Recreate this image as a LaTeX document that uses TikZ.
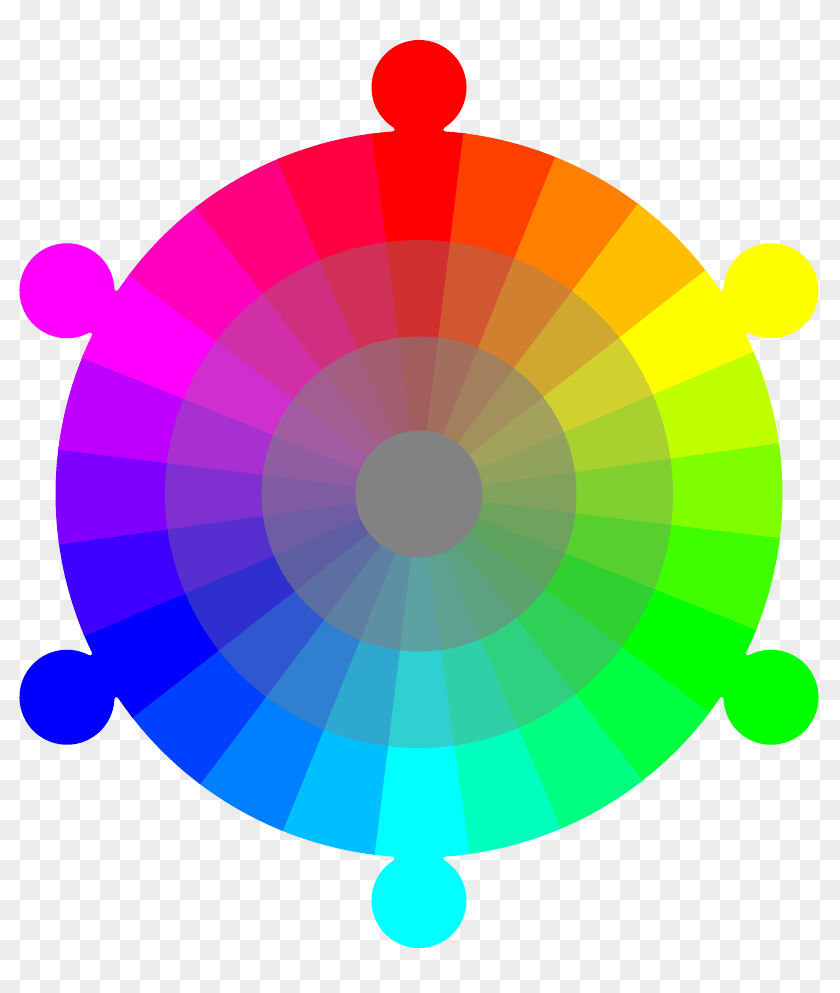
\documentclass[tikz,border=0pt]{standalone}
\definecolor{checkgray}{RGB}{236,236,236}
\definecolor{midgray}{RGB}{130,130,130}
\definecolor{basegray}{rgb}{0.5,0.5,0.5}
\begin{document}
\begin{tikzpicture}[x=1pt,y=1pt]
\useasboundingbox (0,0) rectangle (840,993);
\fill[white] (0,0) rectangle (840,993);
% checkerboard background
\foreach \i in {0,...,41}{
  \foreach \j in {0,...,49}{
    \pgfmathtruncatemacro\chk{mod(\i+\j,2)}
    \ifnum\chk=1
      \fill[checkgray] (20*\i,973-20*\j) rectangle ++(20,20);
    \fi
  }
}
\coordinate (O) at (419,499);
% satellites
\foreach \ang/\hh in {90/0,30/60,-30/120,-90/180,-150/240,150/300}{
  \definecolor{sch}{Hsb}{\hh,1,1}
  \colorlet{sc}[rgb]{sch}
  \begin{scope}[shift={(O)},rotate=\ang-90]
    \fill[sc] (0,406.5) circle[radius=47.5];
    \fill[sc] (26.19,362.56) arc[start angle=-94.13,end angle=-237.89,radius=2]
      -- (-25.27,366.24) arc[start angle=57.89,end angle=-85.87,radius=2]
      -- (0,350) -- cycle;
  \end{scope}
}
% wheel rings
\foreach \rad/\pct in {363.5/100,254/63,157.5/27}{
  \foreach \k in {0,...,23}{
    \pgfmathsetmacro\a{90-15*\k}
    \pgfmathtruncatemacro\hh{15*\k}
    \definecolor{hch}{Hsb}{\hh,1,1}
    \colorlet{hc}[rgb]{hch}
    \fill[hc!\pct!basegray] (O) -- ++(\a-7.5:\rad)
      arc[start angle=\a-7.5,end angle=\a+8,radius=\rad] -- cycle;
  }
}
\fill[midgray] (O) circle[radius=63.5];
\end{tikzpicture}
\end{document}
